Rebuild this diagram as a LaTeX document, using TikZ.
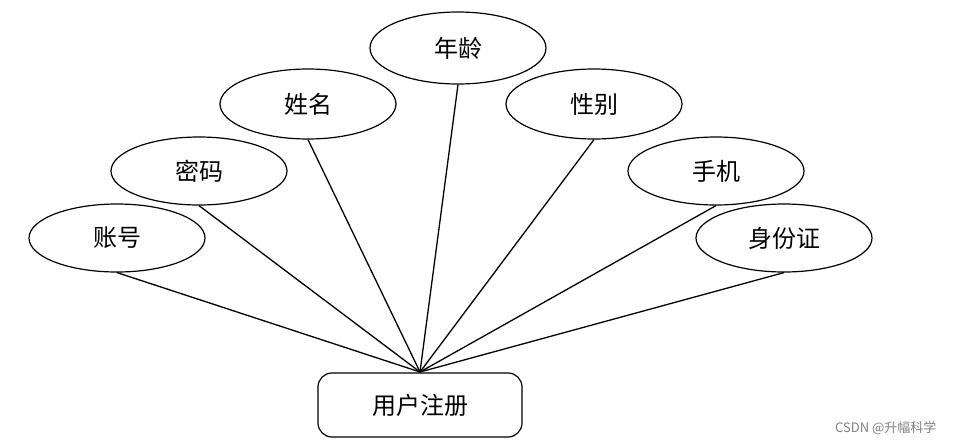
\documentclass[tikz,border=0pt]{standalone}
\usepackage{fontspec}
\setmainfont{Noto Sans CJK SC}
\usetikzlibrary{shapes.geometric}
\begin{document}
\begin{tikzpicture}[x=1pt,y=-1pt,
  attr/.style={ellipse,draw,line width=1.2pt,minimum width=176pt,minimum height=68pt,inner sep=0pt,font=\fontsize{24}{26}\selectfont},
  ent/.style={rectangle,rounded corners=14pt,draw,line width=1.2pt,minimum width=204pt,minimum height=64pt,font=\fontsize{24}{26}\selectfont},
  link/.style={line width=1.3pt}]
\useasboundingbox (0,0) rectangle (954,445);
\node[ent] (e) at (420,405) {用户注册};
\coordinate (c) at (420,372);
\node[attr,minimum height=72pt] (a1) at (458,48) {年龄};
\node[attr,minimum height=70pt] (a2) at (308,104) {姓名};
\node[attr,minimum height=70pt] (a3) at (594,104) {性别};
\node[attr] (a4) at (199,171) {密码};
\node[attr] (a5) at (716,171) {手机};
\node[attr] (a6) at (117,238) {账号};
\node[attr] (a7) at (784,238) {身份证};
\draw[link] (a1.south) -- (c);
\draw[link] (a2.south) -- (c);
\draw[link] (a3.south) -- (c);
\draw[link] (a4.south) -- (c);
\draw[link] (a5.south) -- (c);
\draw[link] (a6.south) -- (c);
\draw[link] (a7.south) -- (c);
\node[text=gray,font=\fontsize{13}{14}\selectfont,anchor=east] (wm) at (940,428) {CSDN @升幅科学};
\end{tikzpicture}
\end{document}
